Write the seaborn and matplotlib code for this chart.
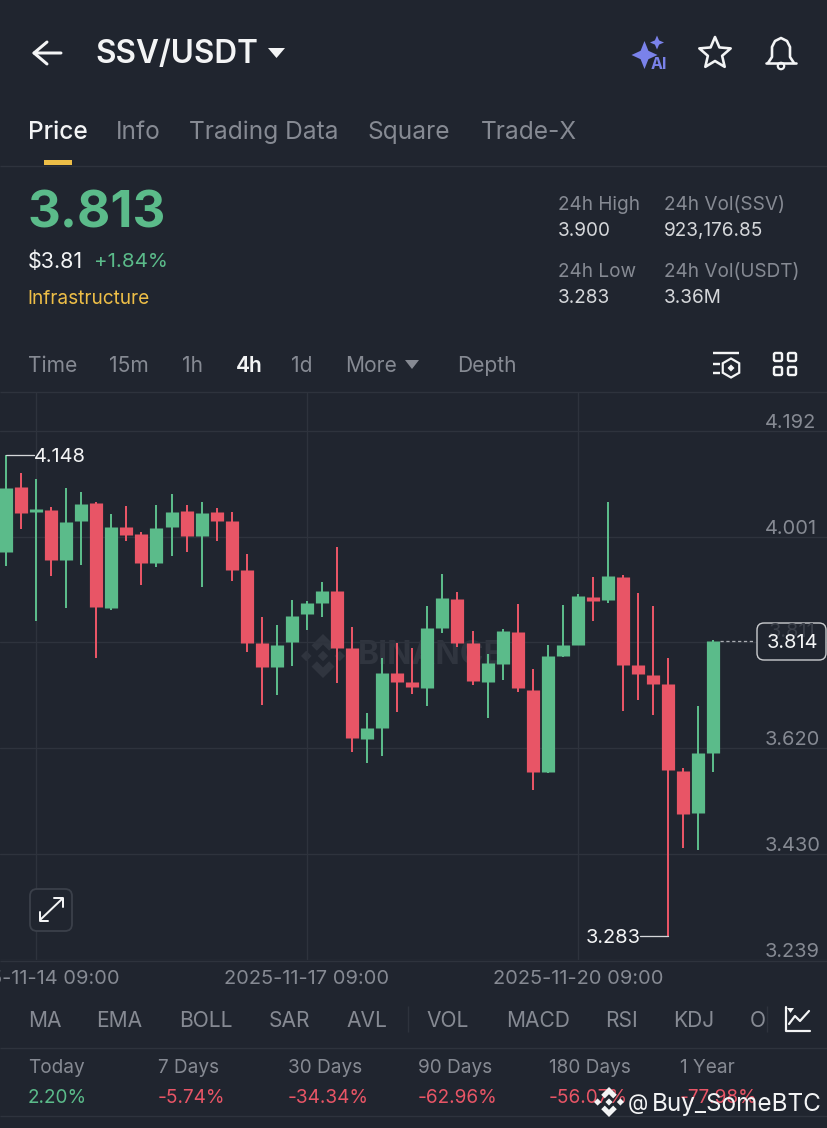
# plot.py - SSV/USDT 4h candles inside the exchange app screen

import numpy as np
import pandas as pd
import matplotlib
matplotlib.use("Agg")
import matplotlib.pyplot as plt
import seaborn as sns
from matplotlib.patches import FancyBboxPatch, Polygon, Rectangle, Circle
from matplotlib.transforms import ScaledTranslation

BG = "#20252F"
GRID = "#2E333D"
GREEN = "#5BBB8A"
RED = "#E85566"
GRAY = "#868A93"
LIGHT = "#D5D7DA"
WHITE = "#F3F4F5"
YELLOW = "#EDBE47"
PURPLE = "#7A82EA"

# Candles, oldest first
opens = [3.974, 4.090, 4.045, 4.050, 3.959, 4.029, 4.062, 3.873, 4.018, 4.007, 3.954, 4.018,
         4.047, 4.003, 4.045, 4.029, 3.942, 3.810, 3.767, 3.812, 3.862, 3.882, 3.904, 3.801,
         3.637, 3.656, 3.755, 3.740, 3.728, 3.836, 3.889, 3.809, 3.740, 3.772, 3.830, 3.725,
         3.578, 3.787, 3.807, 3.893, 3.887, 3.929, 3.770, 3.753, 3.736, 3.580, 3.503, 3.612]
highs = [4.148, 4.116, 4.105, 4.054, 4.089, 4.081, 4.064, 4.042, 4.057, 4.010, 4.059, 4.078,
         4.058, 4.063, 4.053, 4.045, 3.970, 3.857, 3.843, 3.888, 3.886, 3.920, 3.982, 3.839,
         3.683, 3.783, 3.810, 3.800, 3.877, 3.934, 3.902, 3.832, 3.790, 3.835, 3.880, 3.763,
         3.807, 3.879, 3.898, 3.928, 4.063, 3.932, 3.900, 3.876, 3.783, 3.585, 3.697, 3.815]
lows = [3.948, 4.015, 3.850, 3.931, 3.873, 3.951, 3.783, 3.869, 3.994, 3.915, 3.947, 3.967,
        3.974, 3.911, 3.993, 3.922, 3.793, 3.698, 3.716, 3.768, 3.834, 3.856, 3.738, 3.613,
        3.594, 3.606, 3.685, 3.718, 3.696, 3.828, 3.803, 3.734, 3.675, 3.744, 3.721, 3.546,
        3.576, 3.784, 3.806, 3.850, 3.881, 3.687, 3.707, 3.681, 3.283, 3.441, 3.437, 3.578]
closes = [4.089, 4.044, 4.051, 3.960, 4.028, 4.061, 3.875, 4.018, 4.005, 3.954, 4.017, 4.046,
          4.003, 4.044, 4.029, 3.942, 3.810, 3.766, 3.807, 3.859, 3.881, 3.903, 3.800, 3.638,
          3.656, 3.755, 3.740, 3.730, 3.837, 3.890, 3.809, 3.741, 3.773, 3.831, 3.728, 3.577,
          3.787, 3.806, 3.895, 3.886, 3.930, 3.771, 3.754, 3.736, 3.581, 3.502, 3.611, 3.814]

price_ticks = [4.192, 4.001, 3.811, 3.620, 3.430, 3.239]
date_positions = [2, 20, 38]
date_labels = ["2025-11-14 09:00", "2025-11-17 09:00", "2025-11-20 09:00"]

tabs = ["Price", "Info", "Trading Data", "Square", "Trade-X"]
intervals = ["Time", "15m", "1h", "4h", "1d", "More", "Depth"]
indicators = ["MA", "EMA", "BOLL", "SAR", "AVL", "VOL", "MACD", "RSI", "KDJ", "O"]
periods = ["Today", "7 Days", "30 Days", "90 Days", "180 Days", "1 Year"]
changes = ["2.20%", "-5.74%", "-34.34%", "-62.96%", "-56.07%", "-77.98%"]

sns.set_theme(style="dark", rc={
    "axes.facecolor": BG, "figure.facecolor": BG, "axes.edgecolor": GRID,
    "grid.color": GRID, "axes.grid": True, "text.color": WHITE,
})
plt.rcParams["font.family"] = ["Inter", "DejaVu Sans"]

PX = 0.72  # font/line points per pixel at dpi 100
W, H = 828, 1128

fig = plt.figure(figsize=(W / 100, H / 100), dpi=100)

# ---- price chart ----
ax = fig.add_axes([0, (H - 960) / H, 1, 568 / H])

idx = np.arange(len(opens))
side = np.where(np.array(closes) >= np.array(opens), "up", "down")
wicks = pd.concat([
    pd.DataFrame({"candle": idx, "price": highs, "side": side}),
    pd.DataFrame({"candle": idx, "price": lows, "side": side}),
])
bodies = pd.concat([
    pd.DataFrame({"candle": idx, "price": opens, "side": side}),
    pd.DataFrame({"candle": idx, "price": closes, "side": side}),
])
palette = {"up": GREEN, "down": RED}

sns.lineplot(data=wicks, x="candle", y="price", hue="side", units="candle", estimator=None,
             palette=palette, linewidth=2 * PX, solid_capstyle="butt", legend=False, ax=ax, zorder=3)
sns.lineplot(data=bodies, x="candle", y="price", hue="side", units="candle", estimator=None,
             palette=palette, linewidth=13.2 * PX, solid_capstyle="butt", legend=False, ax=ax, zorder=4)

ax.set_xlim(-6 / 15.05, (W - 6) / 15.05)
ax.set_ylim(3.239, 4.2618)
ax.set_xlabel("")
ax.set_ylabel("")
ax.grid(True, color=GRID, linewidth=1.3 * PX)
ax.set_axisbelow(True)
for s in ax.spines.values():
    s.set_visible(False)

ax.set_xticks(date_positions, date_labels)
ax.set_yticks(price_ticks, [f"{p:.3f}" for p in price_ticks])
ax.tick_params(axis="x", length=0, pad=10 * PX, labelsize=20 * PX, labelcolor=GRAY)
ax.tick_params(axis="y", length=0, labelleft=False, labelright=True, pad=-63 * PX,
               labelsize=20 * PX, labelcolor=GRAY)
up_shift = ScaledTranslation(0, 10 / 100, fig.dpi_scale_trans)
for lab in ax.get_yticklabels():
    lab.set_transform(lab.get_transform() + up_shift)

# high / low leaders
hi, lo = int(np.argmax(highs)), int(np.argmin(lows))
ax.plot([hi, hi + 1.85], [highs[hi]] * 2, color=LIGHT, lw=1.3 * PX, zorder=3)
ax.annotate(f"{highs[hi]:.3f}", (hi + 1.85, highs[hi]), xytext=(0, -2), textcoords="offset pixels",
            va="center", ha="left", fontsize=20 * PX, color=WHITE, zorder=6)
ax.plot([lo - 1.85, lo], [lows[lo]] * 2, color=LIGHT, lw=1.3 * PX, zorder=3)
ax.annotate(f"{lows[lo]:.3f}", (lo - 1.85, lows[lo]), xytext=(0, -2), textcoords="offset pixels",
            va="center", ha="right", fontsize=20 * PX, color=WHITE, zorder=6)
# last price dashes
ax.plot([idx[-1] + 0.45, idx[-1] + 2.7], [closes[-1]] * 2, color="#A9ACB2", lw=1.3 * PX,
        ls=(0, (2.5, 2)), zorder=3)


def logo(target, cx, cy, r, color, zorder=1):
    # exchange mark: centre, two side diamonds, two chevrons
    d = 0.24
    for dx in (-0.76, 0, 0.76):
        pts = [(dx, d), (dx + d, 0), (dx, -d), (dx - d, 0)]
        target.add_patch(Polygon([(cx + a * r, cy + b * r) for a, b in pts], color=color, lw=0, zorder=zorder))
    chev = [(0, 1), (0.52, 0.48), (0.28, 0.24), (0, 0.52), (-0.28, 0.24), (-0.52, 0.48)]
    for sgn in (1, -1):
        target.add_patch(Polygon([(cx + a * r, cy - sgn * b * r) for a, b in chev], color=color, lw=0, zorder=zorder))


# ---- app chrome, in screen pixels ----
ui = fig.add_axes([0, 0, 1, 1], zorder=5)
ui.set_xlim(0, W)
ui.set_ylim(H, 0)
ui.axis("off")
ui.patch.set_alpha(0)

# watermark goes under the candles
under = fig.add_axes([0, 0, 1, 1])
under.set_xlim(0, W)
under.set_ylim(H, 0)
under.axis("off")
under.patch.set_alpha(0)
ax.set_zorder(1)
under.set_zorder(0.5)
ax.patch.set_alpha(0)
fig.patch.set_facecolor(BG)
logo(under, 323, 656, 22, "#30353F")
under.text(358, 656, "BINANCE", fontsize=32 * PX, fontweight="bold", color="#30353F", va="center")


def txt(x, y, s, size=22, color=GRAY, weight="normal", ha="left", **kw):
    # small nudge so Inter's side bearing and centre line land where the app's font does
    return ui.text(x - 1.3, y + 1.6, s, fontsize=size * PX, color=color, fontweight=weight, ha=ha, va="center", **kw)


def hline(y, x0=0, x1=W, color=GRID, lw=1.3):
    ui.plot([x0, x1], [y, y], color=color, lw=lw * PX, solid_capstyle="butt")


def vline(x, y0, y1, color=GRID, lw=1.3):
    ui.plot([x, x], [y0, y1], color=color, lw=lw * PX, solid_capstyle="butt")


def poly(pts, **kw):
    ui.add_patch(Polygon(pts, **kw))


def star4(cx, cy, rx, ry, color):
    k = 0.3
    pts = [(cx, cy - ry), (cx + k * rx, cy - k * ry), (cx + rx, cy), (cx + k * rx, cy + k * ry),
           (cx, cy + ry), (cx - k * rx, cy + k * ry), (cx - rx, cy), (cx - k * rx, cy - k * ry)]
    poly(pts, color=color, lw=0)


# header
ui.plot([61, 34, 47], [53, 53, 42], color=WHITE, lw=3 * PX, solid_capstyle="round", solid_joinstyle="round")
ui.plot([34, 47], [53, 64], color=WHITE, lw=3 * PX, solid_capstyle="round")
txt(97, 53, "SSV/USDT", size=31.5, color=WHITE, weight="semibold")
poly([(268, 48), (285, 48), (276.5, 58)], color=WHITE, lw=0)
star4(644.5, 55, 13, 14, PURPLE)
star4(657, 42.5, 7, 7, PURPLE)
ui.text(659, 64.5, "AI", fontsize=16 * PX, color=PURPLE, fontweight="bold", ha="center", va="center")

ang = np.pi / 2 + np.arange(10) * np.pi / 5
rad = np.where(np.arange(10) % 2 == 0, 16.5, 7.5)
poly(np.c_[715 + rad * np.cos(ang), 53.5 - rad * np.sin(ang)], fill=False, ec=WHITE, lw=2.6 * PX, joinstyle="round")

bell = [(768, 63), (772, 57), (772, 47), (775, 41), (781, 38), (787, 41), (790, 47), (790, 57), (794, 63)]
ui.plot(*zip(*bell), color=WHITE, lw=2.6 * PX, solid_joinstyle="round")
ui.plot([766, 796], [63, 63], color=WHITE, lw=2.6 * PX, solid_capstyle="round")
ui.add_patch(Circle((781, 66), 3.2, fill=False, ec=WHITE, lw=2.2 * PX))

# tabs
for x, s, c in zip([29, 117, 190, 369, 482], tabs, [WHITE] + [GRAY] * 4):
    txt(x, 131, s, size=24.5, color=c, weight="medium" if s == "Price" else "normal")
ui.add_patch(Rectangle((44, 160), 28, 5, color=YELLOW, lw=0))
hline(165.5)

# price block
txt(29, 212, "3.813", size=51, color=GREEN, weight="bold")
txt(29, 260, "$3.81", size=21.5, color=WHITE)
txt(95, 260, "+1.84%", size=20.5, color=GREEN)
txt(29, 297, "Infrastructure", size=19, color=YELLOW)

txt(559, 203, "24h High", size=19)
txt(559, 229, "3.900", size=19, color=LIGHT)
txt(559, 270, "24h Low", size=19)
txt(559, 296, "3.283", size=19, color=LIGHT)
txt(665, 203, "24h Vol(SSV)", size=19)
txt(665, 229, "923,176.85", size=19, color=LIGHT)
txt(665, 270, "24h Vol(USDT)", size=19)
txt(665, 296, "3.36M", size=19, color=LIGHT)

# interval row
for x, s in zip([29, 110, 183, 237, 292, 346, 458], intervals):
    active = s == "4h"
    txt(x, 364, s, size=21, color=WHITE if active else GRAY, weight="semibold" if active else "normal")
poly([(405, 360), (419, 360), (412, 369)], color=GRAY, lw=0)

# chart settings icons
hline(353, 713, 739, color=WHITE, lw=2.4)
hline(364, 713, 720, color=WHITE, lw=2.4)
hline(373, 713, 720, color=WHITE, lw=2.4)
hex_a = np.pi / 2 + np.arange(6) * np.pi / 3
poly(np.c_[731 + 9.5 * np.cos(hex_a), 368 + 9.5 * np.sin(hex_a)], fill=False, ec=WHITE, lw=2.2 * PX)
poly([(731, 364.5), (734.5, 368), (731, 371.5), (727.5, 368)], color=WHITE, lw=0)
for x in (773, 787):
    for y in (352, 366):
        ui.add_patch(FancyBboxPatch((x + 1, y + 1), 8, 8, boxstyle="round,pad=0,rounding_size=1.5",
                                    fill=False, ec=WHITE, lw=2.4 * PX))

# rules around the chart
hline(391.5)
hline(960.5)

# current price tag
ui.add_patch(FancyBboxPatch((757, 623), 69, 37, boxstyle="round,pad=0,rounding_size=7",
                            fc=BG, ec="#C9CBCE", lw=1.4 * PX, zorder=3))
ui.text(792, 632, "3.811", fontsize=20 * PX, color="#3A3F49", ha="center", va="center", zorder=4)
ui.text(792, 642.5, "3.814", fontsize=20 * PX, color=WHITE, ha="center", va="center", zorder=5)

# expand button
ui.add_patch(FancyBboxPatch((30, 889), 42, 42, boxstyle="round,pad=0,rounding_size=7",
                            fc=BG, ec="#3B404A", lw=1.8 * PX))
ui.plot([40, 62], [920, 899], color=WHITE, lw=2 * PX)
ui.plot([40, 40, 48], [912, 921, 921], color=WHITE, lw=2 * PX)
ui.plot([54, 63, 63], [898, 898, 907], color=WHITE, lw=2 * PX)

# indicators
for x, s in zip([29, 97, 180, 270, 348, 428, 507, 606, 674, 751], indicators):
    txt(x, 1019, s, size=21, clip_on=True)
ui.add_patch(Rectangle((768, 1000), 60, 40, color=BG, lw=0, zorder=2))
vline(408, 1006, 1032)
vline(767, 1006, 1032)
ui.plot([786, 786, 810], [1007, 1031, 1031], color=WHITE, lw=2.2 * PX, zorder=3)
ui.plot([789, 795, 800, 809], [1024, 1016, 1021, 1011], color=WHITE, lw=2.2 * PX, zorder=3)
poly([(787, 1008), (794, 1008), (790.5, 1013)], color=WHITE, lw=0, zorder=3)
hline(1047.5)

# performance row
for x, p, c in zip([29, 159, 289, 419, 550, 681], periods, changes):
    txt(x, 1066, p, size=19)
    txt(x, 1096, c, size=19, color=GREEN if not c.startswith("-") else RED)
hline(1115.5)

# author watermark
logo(ui, 609, 1102, 15, WHITE, zorder=6)
ui.text(628, 1104, "@", fontsize=21 * PX, color=WHITE, va="center", zorder=6)
ui.text(652, 1104, "Buy_SomeBTC", fontsize=24.3 * PX, color=WHITE, va="center", zorder=6)

fig.savefig("out.png", dpi=100, facecolor=BG)
plt.close(fig)
